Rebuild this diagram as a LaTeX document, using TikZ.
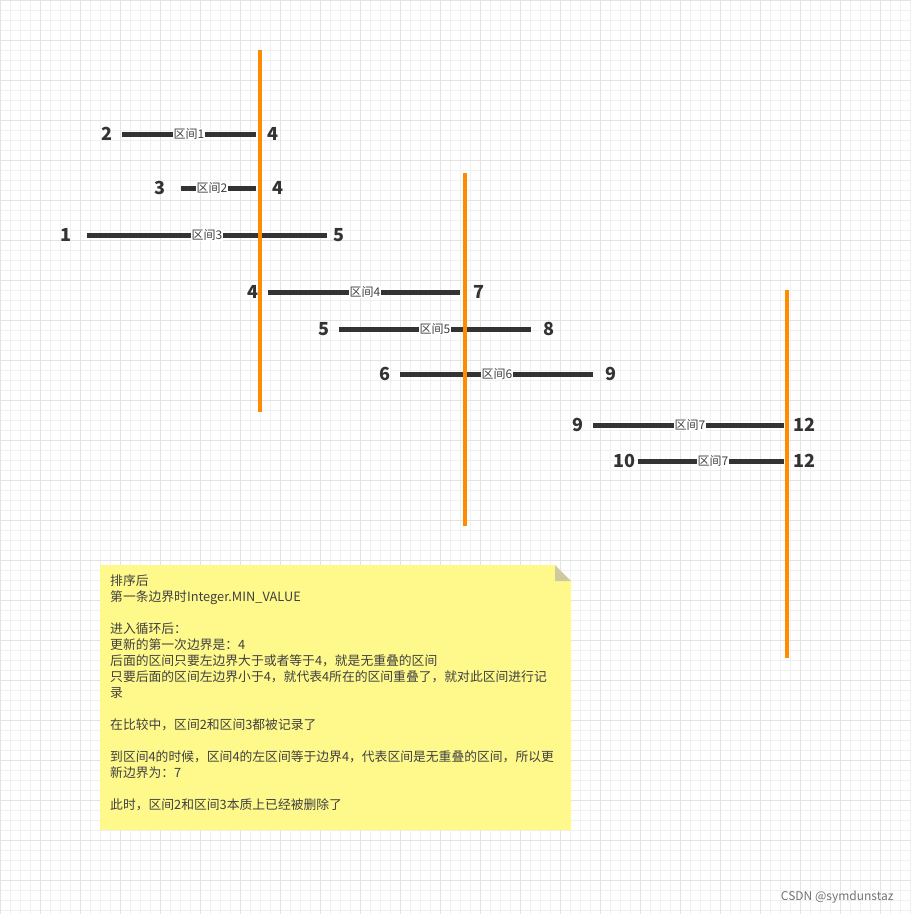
\documentclass[tikz,border=0pt]{standalone}
\usepackage{fontspec}
\setmainfont{Noto Sans CJK SC}
\begin{document}
\begin{tikzpicture}[x=1pt,y=-1pt,
  seg/.style={line width=5pt,color=black!80},
  lab/.style={fill=white,inner sep=0.8pt,font=\fontsize{12}{12}\selectfont,text=black!75},
  num/.style={font=\fontsize{18}{20}\selectfont\bfseries,text=black!80,inner sep=0pt},
  bar/.style={line width=3.5pt,color=orange!90!yellow},
  note/.style={font=\fontsize{12.8}{16}\selectfont,text=black!75,align=left,anchor=north west,inner sep=0pt}]
\useasboundingbox (0,0) rectangle (911,914);
\fill[white] (0,0) rectangle (911,914);
\foreach \i in {0,10,...,910} {\draw[black!6,line width=0.5pt] (\i,0) -- (\i,914);}
\foreach \i in {0,10,...,910} {\draw[black!6,line width=0.5pt] (0,\i) -- (911,\i);}
\foreach \i in {0,40,...,880} {\draw[black!11,line width=0.6pt] (\i,0) -- (\i,914); \draw[black!11,line width=0.6pt] (0,\i) -- (911,\i);}
\newcommand{\seg}[8]{%
  \coordinate (a#1) at (#3,#2); \coordinate (b#1) at (#4,#2);
  \draw[seg] (a#1) -- (b#1);
  \node[lab] (l#1) at (#5,#2) {区间#8};
  \node[num] (n#1) at (#6,#2) {#7};}
\seg{1}{134}{122}{256}{189}{107}{2}{1}
\node[num] (m1) at (273,134) {4};
\seg{2}{188}{181}{256}{212}{160}{3}{2}
\node[num] (m2) at (278,188) {4};
\seg{3}{235}{87}{327}{207}{66}{1}{3}
\node[num] (m3) at (339,235) {5};
\seg{4}{292}{268}{460}{365}{253}{4}{4}
\node[num] (m4) at (479,292) {7};
\seg{5}{329}{339}{531}{435}{324}{5}{5}
\node[num] (m5) at (549,329) {8};
\seg{6}{374}{400}{593}{497}{385}{6}{6}
\node[num] (m6) at (611,374) {9};
\seg{7}{425}{593}{784}{690}{578}{9}{7}
\node[num] (m7) at (804,425) {12};
\seg{8}{461}{638}{784}{713}{624}{10}{7}
\node[num] (m8) at (804,461) {12};
\coordinate (v1a) at (260,50); \coordinate (v1b) at (260,412);
\coordinate (v2a) at (465,173); \coordinate (v2b) at (465,526);
\coordinate (v3a) at (787,290); \coordinate (v3b) at (787,658);
\draw[bar] (v1a) -- (v1b);
\draw[bar] (v2a) -- (v2b);
\draw[bar] (v3a) -- (v3b);
\fill[yellow!45!white] (100,565) -- (555,565) -- (571,581) -- (571,830) -- (100,830) -- cycle;
\fill[yellow!50!black!45!white] (555,565) -- (571,581) -- (555,581) -- cycle;
\node[note] (txt) at (110,574) {排序后\\第一条边界时Integer.MIN\_VALUE\\ \\进入循环后：\\更新的第一次边界是：4\\后面的区间只要左边界大于或者等于4，就是无重叠的区间\\只要后面的区间左边界小于4，就代表4所在的区间重叠了，就对此区间进行记\\录\\ \\在比较中，区间2和区间3都被记录了\\ \\到区间4的时候，区间4的左区间等于边界4，代表区间是无重叠的区间，所以更\\新边界为：7\\ \\此时，区间2和区间3本质上已经被删除了};
\node[font=\fontsize{12}{14}\selectfont,text=black!55,anchor=east] (wm) at (897,897) {CSDN @symdunstaz};
\end{tikzpicture}
\end{document}
